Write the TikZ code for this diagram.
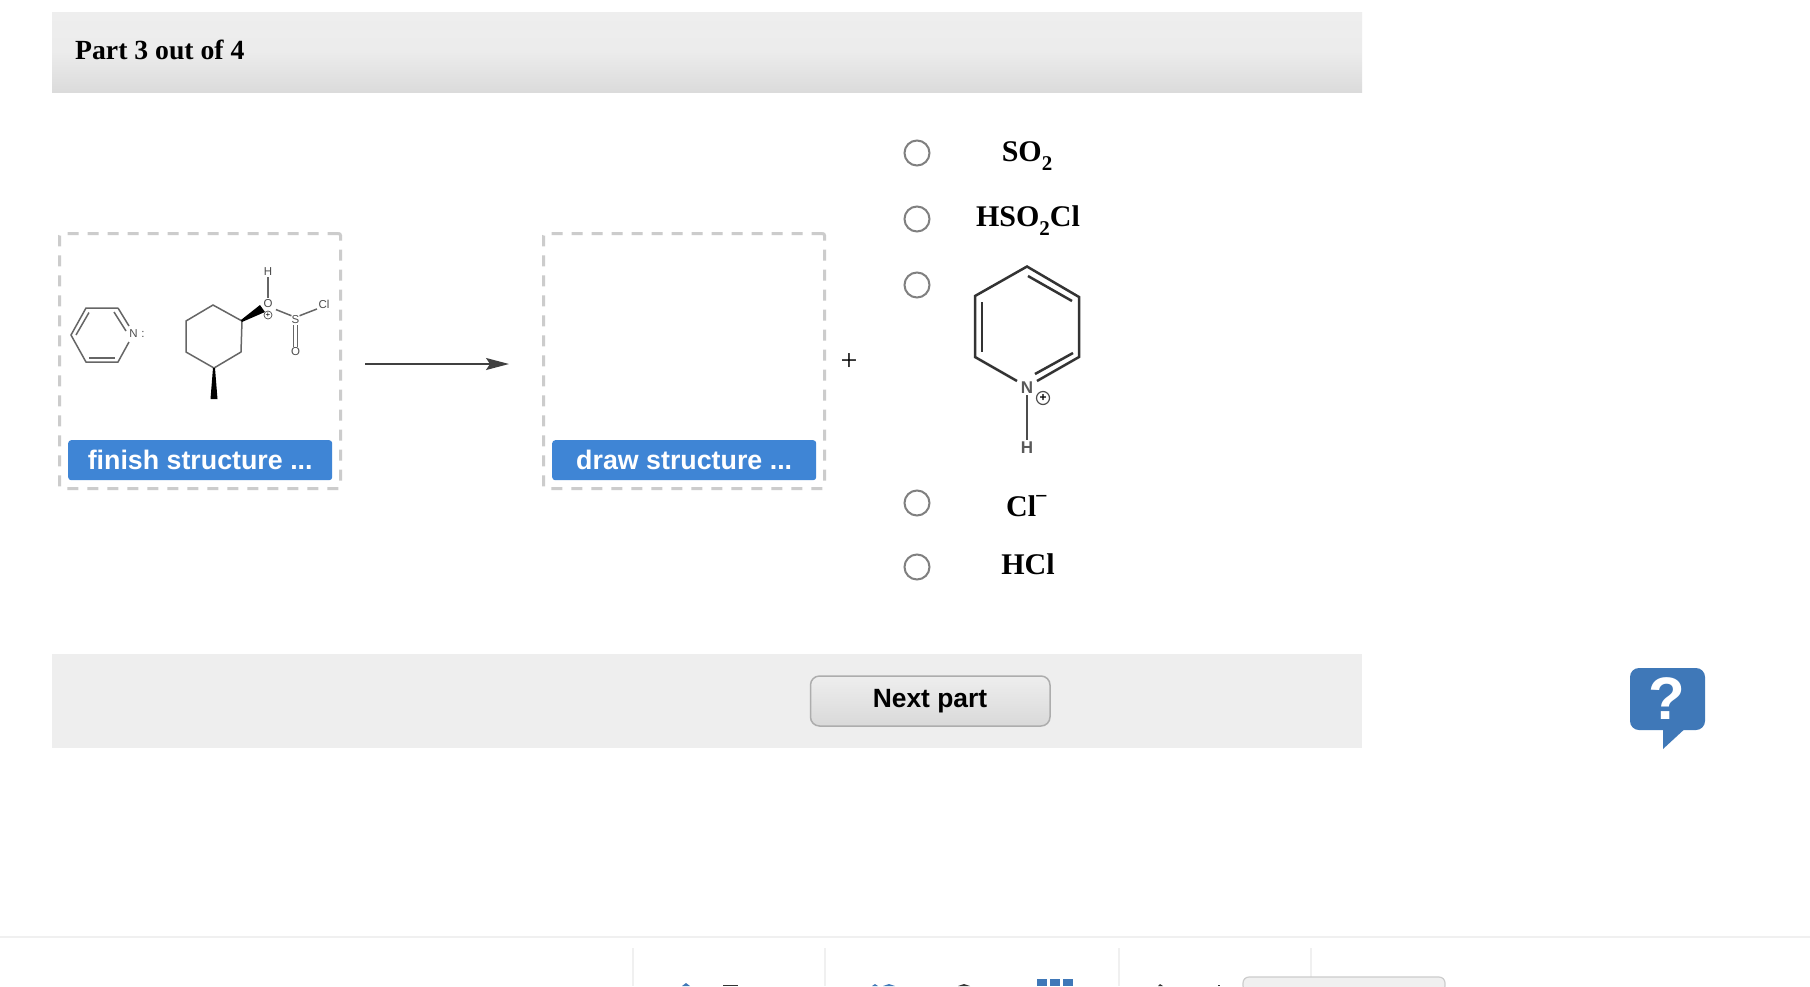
\documentclass[tikz,border=0pt]{standalone}
\usepackage{fontspec}
\setmainfont{Liberation Serif}
\setsansfont{Liberation Sans}
\usetikzlibrary{arrows.meta}
\definecolor{dashgray}{HTML}{CCCCCC}
\definecolor{btnblue}{HTML}{3F85D5}
\definecolor{bargray}{HTML}{EEEEEE}
\definecolor{radiogray}{HTML}{808080}
\definecolor{bondgray}{HTML}{666666}
\definecolor{iconblue}{HTML}{3F78B8}
\definecolor{rulegray}{HTML}{F0F0F0}
\newcommand{\subtwo}{\raisebox{-0.3em}{\fontsize{21}{21}\selectfont 2}}
\tikzset{
  answerbox/.style={draw=dashgray,line width=3pt,dash pattern=on 11pt off 9pt,rounded corners=2pt,minimum width=281pt,minimum height=255pt,anchor=north west,inner sep=0pt},
  bluebtn/.style={fill=btnblue,rounded corners=3pt,minimum width=264pt,minimum height=40pt,anchor=north west,inner sep=0pt,text=white,font=\sffamily\bfseries\fontsize{26.8}{30}\selectfont},
  radio/.style={circle,draw=radiogray,line width=2pt,minimum size=25pt,inner sep=0pt},
  formula/.style={font=\rmfamily\bfseries\fontsize{30}{32}\selectfont,inner sep=0pt},
  bond/.style={draw=bondgray,line width=1.5pt},
  bondk/.style={draw=black!80,line width=2.5pt},
  atoms/.style={font=\sffamily\fontsize{11.5}{12}\selectfont,text=black!70,inner sep=0pt},
  atomb/.style={font=\sffamily\bfseries\fontsize{17}{18}\selectfont,text=black!65,inner sep=0pt},
  rulev/.style={draw=rulegray,line width=1.2pt},
}
\begin{document}
\begin{tikzpicture}[x=1pt,y=-1pt]
\useasboundingbox (0,0) rectangle (1810,986);
\fill[white] (0,0) rectangle (1810,986);
% header
\shade[top color=bargray,bottom color=bargray!92!black,middle color=bargray!99!black] (52,12) rectangle (1362,92);
\node[anchor=west,inner sep=0pt,font=\rmfamily\bfseries\fontsize{27.7}{30}\selectfont] (title) at (75,50) {Part 3 out of 4};
% boxes
\node[answerbox] (boxa) at (58,232) {};
\node[answerbox] (boxb) at (542,232) {};
\node[bluebtn] (btna) at (68,440) {\raisebox{1.5pt}{finish structure ...}};
\node[bluebtn] (btnb) at (552,440) {\raisebox{1.5pt}{draw structure ...}};
% arrow
\coordinate (arrs) at (365,364);
\coordinate (arre) at (509,364);
\draw[line width=1.6pt,black!75,-{Stealth[length=23pt,width=12pt,inset=4pt]}] (arrs) -- (arre);
\node[font=\rmfamily\fontsize{30}{32}\selectfont,inner sep=0pt] (plus) at (849,362) {+};
% pyridine in box
\draw[bond] (118,308) -- (86,308) -- (71,335) -- (86,362) -- (118,362) -- (129,342);
\draw[bond] (118,308) -- (129,326);
\draw[bond] (114,312) -- (126,331);
\draw[bond] (89,312.5) -- (76,335);
\draw[bond] (89,358) -- (115,358);
\node[atoms] (pyn) at (133.5,334) {N};
\node[atoms] (pyc) at (143,334) {:};
% cyclohexane
\draw[bond] (242,321) -- (213,305) -- (186,321) -- (186,352) -- (214,368) -- (241,352) -- cycle;
\fill[black] (241,320) -- (260,305) -- (265,312) -- (242,322) -- cycle;
\fill[black] (213,368) -- (210.5,399) -- (217.5,399) -- (215,368) -- cycle;
\node[atoms] (oa) at (268,304) {O};
\node[atoms] (ha) at (268,272) {H};
\node[circle,draw=black!70,line width=0.7pt,inner sep=0pt,minimum size=8pt,font=\sffamily\fontsize{8}{8}\selectfont] (oplus) at (268,315) {+};
\node[atoms] (sa) at (295.5,320) {S};
\node[atoms] (cla) at (324,304) {Cl};
\node[atoms] (ob) at (295.5,352) {O};
\draw[bond,shorten <=1.5pt,shorten >=1pt] (oa.north) -- (ha.south);
\draw[bond,shorten <=3.5pt] (oa.south east) -- (sa.north west);
\draw[bond,shorten >=1.5pt] (sa.north east) -- (cla.south west);
\draw[bond,shorten <=1pt,shorten >=1pt] ([xshift=-1.8pt]sa.south) -- ([xshift=-1.8pt]ob.north);
\draw[bond,shorten <=1pt,shorten >=1pt] ([xshift=1.8pt]sa.south) -- ([xshift=1.8pt]ob.north);
% radios
\node[radio] (ra) at (917,153) {};
\node[radio] (rb) at (917,219) {};
\node[radio] (rc) at (917,285) {};
\node[radio] (rd) at (917,503) {};
\node[radio] (re) at (917,567) {};
% formulas
\node[formula,anchor=base] (fa) at (1027,161) {SO\subtwo};
\node[formula,anchor=base] (fb) at (1028,226) {HSO\subtwo Cl};
\node[formula,anchor=base west] (fd) at (1006,516) {Cl};
\node[formula,anchor=base west,font=\rmfamily\bfseries\fontsize{22}{22}\selectfont] (fdm) at (1035,503) {−};
\node[formula,anchor=base] (fe) at (1028,574) {HCl};
% pyridinium
\node[atomb] (nb) at (1027,388) {N};
\node[atomb] (hb) at (1027,448) {H};
\node[circle,draw=black!70,line width=1.2pt,inner sep=0pt,minimum size=13pt,font=\sffamily\bfseries\fontsize{12}{12}\selectfont] (nplus) at (1043,398) {+};
\draw[bondk,line join=miter] (1017,381) -- (975,357) -- (975,296) -- (1027,266.5) -- (1079,297) -- (1079,357) -- (1037,381);
\draw[bondk] (982,302) -- (982,352);
\draw[bondk] (1028,276) -- (1072,301);
\draw[bondk] (1035,374) -- (1073,353);
\draw[bondk,draw=black!70,shorten <=1pt,shorten >=2pt] (nb.south) -- (hb.north);
% footer
\fill[bargray] (52,654) rectangle (1362,748);
\shade[top color=bargray,bottom color=black!15,draw=black!32,line width=1.5pt,rounded corners=9pt] (810.5,676) rectangle (1050,726);
\node[font=\sffamily\bfseries\fontsize{26.4}{28}\selectfont,inner sep=0pt] (next) at (930,701.5) {Next part};
% help icon
\fill[iconblue,rounded corners=9pt] (1630,668) rectangle (1705,730);
\fill[iconblue] (1663,725) -- (1663,749) -- (1689,725) -- cycle;
\node[text=white,font=\sffamily\bfseries\fontsize{60}{60}\selectfont,inner sep=0pt] (q) at (1667,699) {?};
% bottom strip
\draw[rulegray,line width=1.5pt] (0,937) -- (1810,937);
\draw[rulev] (633,948) -- (633,986);
\draw[rulev] (825,948) -- (825,986);
\draw[rulev] (1119,948) -- (1119,986);
\draw[rulev] (1311,948) -- (1311,977);
\fill[black!6,draw=black!20,line width=1.2pt,rounded corners=6pt] (1243,992) rectangle (1445,977);
\fill[iconblue] (1037,979) rectangle (1047,986);
\fill[iconblue] (1050,979) rectangle (1060,986);
\fill[iconblue] (1063,979) rectangle (1073,986);
\fill[iconblue] (682,986) -- (686,983) -- (690,986) -- cycle;
\fill[black!80] (723,985) rectangle (738,986);
\fill[iconblue] (872,986) -- (875,984) -- (878,986) -- cycle;
\fill[iconblue] (883,986) -- (889,984) -- (895,986) -- cycle;
\fill[black!80] (958,986) -- (964,984) -- (970,986) -- cycle;
\fill[black!80] (1158,986) -- (1160,984) -- (1163,986) -- cycle;
\fill[black!80] (1218,985) rectangle (1220,986);
\end{tikzpicture}
\end{document}
